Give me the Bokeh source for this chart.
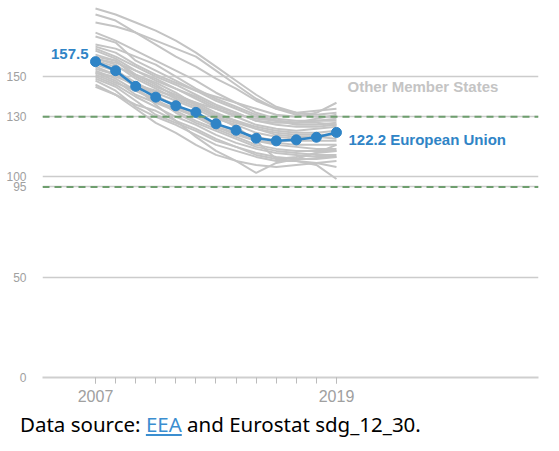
from bokeh.plotting import figure
from bokeh.models import Range1d, FixedTicker, Span, Div, ColumnDataSource
from bokeh.layouts import column
from bokeh.embed import file_html
from bokeh.resources import INLINE
from bokeh.core.properties import value

years = list(range(2007, 2020))

eu = [157.5, 153.0, 145.2, 139.8, 135.5, 132.2, 126.5, 123.3, 119.3, 118.0, 118.5, 119.8, 122.2]

others = [
    [184, 181, 177, 173, 168, 162, 155, 148, 141, 135, 132, 131, 132],
    [181, 178, 172, 166, 160, 155, 149, 144, 138, 134, 131, 130, 130],
    [177, 175, 172, 168, 164, 160, 153, 146, 139, 134, 132, 133, 134],
    [172, 168, 163, 158, 153, 148, 142, 137, 132, 129, 128, 128, 129],
    [170, 167, 158, 153, 148, 143, 138, 134, 130, 128, 127, 128, 128],
    [166, 164, 160, 156, 150, 144, 139, 135, 131, 128, 126, 126, 127],
    [164, 160, 155, 150, 146, 141, 136, 132, 128, 126, 125, 125, 126],
    [163, 159, 153, 148, 144, 139, 134, 130, 126, 124, 123, 124, 125],
    [161, 158, 150, 145, 141, 137, 132, 128, 125, 123, 122, 122, 123],
    [159, 156, 149, 144, 139, 135, 130, 127, 124, 122, 121, 121, 121],
    [158, 155, 151, 147, 142, 136, 131, 128, 124, 121, 120, 120, 119],
    [156, 153, 147, 142, 138, 134, 129, 126, 122, 120, 119, 120, 121],
    [155, 151, 145, 140, 136, 131, 126, 123, 120, 118, 118, 118, 118],
    [154, 151, 146, 141, 135, 130, 125, 121, 118, 117, 116, 116, 116],
    [153, 149, 143, 138, 134, 130, 125, 122, 118, 116, 115, 114, 114],
    [152, 148, 141, 137, 133, 128, 124, 120, 116, 114, 113, 113, 113],
    [151, 147, 143, 139, 132, 127, 123, 119, 115, 113, 112, 111, 111],
    [150, 146, 140, 135, 130, 126, 121, 117, 114, 112, 111, 110, 110],
    [149, 145, 138, 131, 127, 123, 118, 115, 112, 110, 109, 109, 110],
    [148, 143, 135, 130, 126, 121, 116, 113, 110, 108, 108, 107, 105],
    [146, 141, 134, 127, 122, 116, 111, 108, 106, 105, 106, 107, 108],
    [145, 141, 136, 133, 128, 124, 119, 115, 111, 109, 110, 112, 113],
    [160, 158, 151, 146, 140, 136, 130, 125, 118, 109, 108, 106, 99],
    [157, 154, 145, 136, 128, 120, 113, 108, 102, 107, 109, 112, 116],
    [165, 162, 156, 151, 147, 143, 140, 137, 134, 131, 130, 132, 137],
    [152, 150, 146, 143, 140, 137, 134, 131, 129, 128, 127, 127, 126],
    [159, 157, 153, 149, 144, 140, 135, 132, 128, 127, 127, 129, 131],
]

y_ticks = [0, 50, 95, 100, 130, 150]
x_major = [2007, 2019]
targets = [130, 95]

GREY = "#c4c4c4"
BLUE = "#2f84c6"
GREEN = "#6e9e6e"
FONT = "Liberation Sans"

p = figure(width=546, height=404, output_backend="svg", toolbar_location=None,
           x_range=Range1d(2004.36, 2029.06), y_range=Range1d(0, 185),
           min_border_left=42, min_border_right=8, min_border_top=6, min_border_bottom=22)
p.outline_line_color = None
p.background_fill_color = None
p.border_fill_color = None

# axes
p.yaxis.ticker = FixedTicker(ticks=y_ticks)
p.yaxis.axis_line_color = None
p.yaxis.major_tick_line_color = None
p.yaxis.minor_tick_line_color = None
p.yaxis.major_label_text_font = FONT
p.yaxis.major_label_text_font_size = "12px"
p.yaxis.major_label_text_color = "#a0a0a0"
p.yaxis.major_label_standoff = 10

p.xaxis.ticker = FixedTicker(ticks=x_major, minor_ticks=years)
p.xaxis.axis_line_color = "#cfcfcf"
p.xaxis.axis_line_width = 2
p.xaxis.major_tick_line_color = "#bbbbbb"
p.xaxis.minor_tick_line_color = "#bbbbbb"
p.xaxis.major_tick_in = 0
p.xaxis.major_tick_out = 6
p.xaxis.minor_tick_in = 0
p.xaxis.minor_tick_out = 6
p.xaxis.major_label_text_font = FONT
p.xaxis.major_label_text_font_size = "16px"
p.xaxis.major_label_text_color = "#a0a0a0"
p.xaxis.major_label_standoff = 6

p.xgrid.grid_line_color = None
p.ygrid.grid_line_color = "#cccccc"
p.ygrid.grid_line_width = 1.5

for t in targets:
    p.add_layout(Span(location=t, dimension="width", line_color=GREEN,
                      line_width=2, line_dash="7 5"))

for s in others:
    p.line(years, s, line_color=GREY, line_width=2)

p.line(years, eu, line_color=BLUE, line_width=2.5)
p.scatter(years, eu, size=10, fill_color=BLUE, line_color=BLUE)

lbl = ColumnDataSource(dict(
    x=[years[0], years[-1], years[-1]],
    y=[eu[0], eu[-1], 145],
    t=["%.1f" % eu[0], "%.1f European Union" % eu[-1], "Other Member States"],
    c=[BLUE, BLUE, "#c4c4c4"],
    xo=[-7, 12, 11],
    yo=[-8, 7, 0],
    a=["right", "left", "left"],
))
p.text(x="x", y="y", text="t", text_color="c", x_offset="xo", y_offset="yo",
       text_align="a", text_baseline="middle", source=lbl,
       text_font=value(FONT), text_font_style="bold", text_font_size="15px")

div = Div(text='Data source: <a href="#" style="color:#3b8ed0;">EEA</a> and Eurostat sdg_12_30.',
          styles={"font-family": "Noto Sans", "font-size": "20.5px", "color": "#000"},
          margin=(6, 0, 0, 20))

layout = column(p, div)
open("out.html", "w").write(file_html(layout, INLINE))
